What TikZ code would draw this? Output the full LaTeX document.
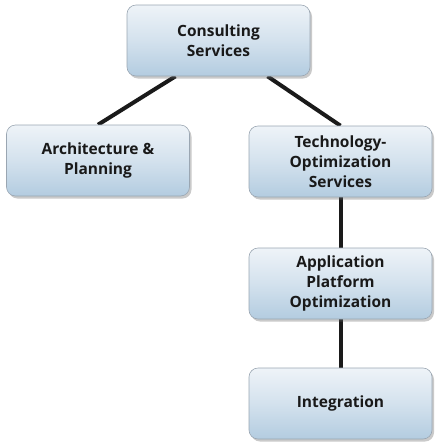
\documentclass[tikz,border=0pt]{standalone}
\usepackage{fontspec}
\setmainfont{Open Sans}
\usetikzlibrary{shadows,calc,backgrounds}
\definecolor{boxtop}{HTML}{EEF3F8}
\definecolor{boxbot}{HTML}{B3CCE0}
\definecolor{boxedge}{HTML}{9AA6B2}
\definecolor{linecol}{HTML}{1A1A1A}
\tikzset{
  orgbox/.style={draw=boxedge, line width=0.6pt, rounded corners=9pt,
    top color=boxtop, bottom color=boxbot, middle color=boxtop!55!boxbot,
    minimum width=183pt, minimum height=71pt, inner sep=2pt,
    align=center, font=\fontsize{15.5}{20}\selectfont\bfseries, text=black!90,
    drop shadow={shadow xshift=2pt, shadow yshift=-2.5pt, opacity=0.35, fill=black!60}},
  link/.style={draw=linecol, line width=4pt}
}
\begin{document}
\begin{tikzpicture}[x=1pt,y=1pt]
\useasboundingbox (0,0) rectangle (437,-448);
\node[orgbox] (cons) at (218.5,-40.5) {Consulting\\Services};
\node[orgbox] (arch) at (98,-160.5) {Architecture \&\\Planning};
\node[orgbox] (tech) at (340.5,-161.5) {Technology-\\Optimization\\Services};
\node[orgbox] (app) at (340.5,-283.5) {Application\\Platform\\Optimization};
\node[orgbox] (intg) at (340.5,-403.5) {Integration};
\coordinate (cl) at ($(cons.south)+(-43,0)$);
\coordinate (cr) at ($(cons.south)+(49,0)$);
\begin{scope}[on background layer]
\draw[link] (cl) -- (arch.north);
\draw[link] (cr) -- (tech.north);
\draw[link] (tech.south) -- (app.north);
\draw[link] (app.south) -- (intg.north);
\end{scope}
\end{tikzpicture}
\end{document}
